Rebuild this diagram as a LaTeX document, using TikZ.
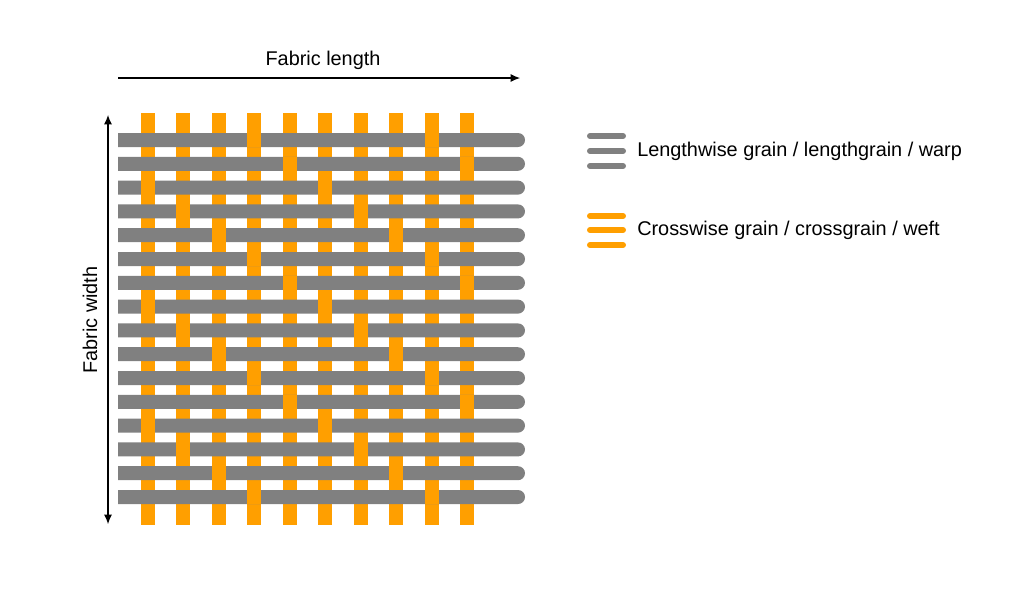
\documentclass[tikz,border=0pt]{standalone}
\usepackage{fontspec}
\setmainfont{Liberation Sans}
\usetikzlibrary{arrows.meta}
\definecolor{warpgray}{HTML}{808080}
\definecolor{weftorange}{HTML}{FF9F00}
\tikzset{
  warp/.style={fill=warpgray},
  weft/.style={fill=weftorange},
  dimline/.style={line width=0.8pt, -{Latex[length=7pt,width=6pt]}},
  keyline/.style={line width=4.5pt, line cap=round},
  lbl/.style={font=\fontsize{14.9}{17}\selectfont, inner sep=0pt},
}
\begin{document}
\begin{tikzpicture}[x=0.75pt,y=-0.75pt]
        \useasboundingbox (0,0) rectangle (1024,600);

        % weft threads, underneath
        \foreach \c in {0,...,9}
          \fill[weft] ({148+35.45*\c-7},113) rectangle ({148+35.45*\c+7},525);

        % warp threads
        \foreach \r in {0,...,15}
          \fill[warp] (118,{140+23.8*\r-7}) -- (518,{140+23.8*\r-7})
            arc[start angle=-90, end angle=90, radius=7]
            -- (118,{140+23.8*\r+7}) -- cycle;

        % weft on top of warp, shifting one column per row
        \foreach \r in {0,...,15}{
          \pgfmathtruncatemacro\ca{mod(\r+3,5)}
          \pgfmathtruncatemacro\cb{\ca+5}
          \foreach \c in {\ca,\cb}
            \fill[weft] ({148+35.45*\c-7},{140+23.8*\r-7.3}) rectangle ({148+35.45*\c+7},{140+23.8*\r+7.3});
        }

        % dimension arrows
        \coordinate (lenstart) at (118,78);
        \coordinate (lenend) at (520,78);
        \draw[dimline] (lenstart) -- (lenend);
        \node[lbl] (lenlabel) at (323,60) {Fabric length};

        \coordinate (widtop) at (108,115);
        \coordinate (widbot) at (108,524);
        \draw[dimline, {Latex[length=7pt,width=6pt]}-{Latex[length=7pt,width=6pt]}] (widtop) -- (widbot);
        \node[lbl, rotate=90] (widlabel) at (90,320) {Fabric width};

        % key
        \draw[keyline, warpgray] (590,136) -- (623,136);
        \draw[keyline, warpgray] (590,151) -- (623,151);
        \draw[keyline, warpgray] (590,166) -- (623,166);
        \node[lbl, anchor=west] (warplabel) at (637,151) {Lengthwise grain / lengthgrain / warp};

        \draw[keyline, weftorange] (590,216) -- (623,216);
        \draw[keyline, weftorange] (590,230) -- (623,230);
        \draw[keyline, weftorange] (590,245) -- (623,245);
        \node[lbl, anchor=west] (weftlabel) at (637,230) {Crosswise grain / crossgrain / weft};
\end{tikzpicture}
\end{document}
